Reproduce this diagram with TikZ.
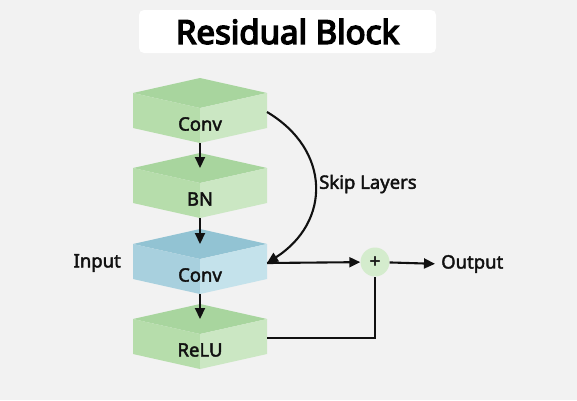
\documentclass[tikz,border=0pt]{standalone}
\usepackage{fontspec}
\setmainfont{Noto Sans}
\newfontfamily\lblfont{Noto Sans}[FakeBold=2.2]
\newfontfamily\titlefont{Noto Sans}[FakeBold=4.5]
\usetikzlibrary{arrows.meta}
\definecolor{bg}{HTML}{F2F2F2}
\definecolor{gtop}{HTML}{A8D59E}
\definecolor{gleft}{HTML}{B6DDAB}
\definecolor{gright}{HTML}{CBE7C3}
\definecolor{btop}{HTML}{92C3D3}
\definecolor{bleft}{HTML}{A8D0DE}
\definecolor{bright}{HTML}{C4E2EB}
\definecolor{plusfill}{HTML}{D4ECCD}
\definecolor{ink}{HTML}{111111}
\newcommand\resblock[6]{%
  \fill[#3] (133,#2+15) -- (200,#2) -- (267,#2+15) -- (200,#2+30) -- cycle;
  \fill[#4] (133,#2+15) -- (200,#2+30) -- (200,#2+65) -- (133,#2+50) -- cycle;
  \fill[#5] (200,#2+30) -- (267,#2+15) -- (267,#2+50) -- (200,#2+65) -- cycle;
  \node[lbl] (#1) at (200,#2+46) {#6};
  \coordinate (#1-top) at (200,#2+15);
  \coordinate (#1-bot) at (200,#2+65);
  \coordinate (#1-right) at (267,#2+34);
}
\tikzset{
  lbl/.style={font=\lblfont\fontsize{18.5}{22}\selectfont, text=ink, inner sep=0pt},
  conn/.style={draw=ink, line width=2.1pt, -{Triangle[length=11pt,width=10pt]}},
  plain/.style={draw=ink, line width=2.1pt},
}
\begin{document}
\begin{tikzpicture}[x=1pt,y=-1pt]
\fill[bg] (0,0) rectangle (577,400);
\useasboundingbox (0,0) rectangle (577,400);
\node[fill=white, rounded corners=5pt, minimum width=297pt, minimum height=43pt, inner sep=0pt,
  font=\titlefont\fontsize{33}{37}\selectfont, text=black] (title) at (287.5,31.5) {Residual Block};
\resblock{conv1}{78}{gtop}{gleft}{gright}{Conv}
\resblock{bn}{153}{gtop}{gleft}{gright}{BN}
\resblock{conv2}{229}{btop}{bleft}{bright}{Conv}
\resblock{relu}{304}{gtop}{gleft}{gright}{ReLU}
\draw[conn] (conv1-bot) -- (bn-top);
\draw[conn] (bn-bot) -- (conv2-top);
\draw[conn] (conv2-bot) -- (relu-top);
\node[lbl, anchor=east] (input) at (121,263) {Input};
\node[circle, fill=plusfill, minimum size=29pt, inner sep=0pt, lbl] (plus) at (375,262) {+};
\node[lbl, anchor=west] (output) at (441,264) {Output};
\node[lbl, anchor=west] (skip) at (319,184) {Skip Layers};
\draw[conn] (conv1-right) .. controls (331,150) and (331,222) .. (conv2-right);
\draw[conn] (conv2-right) -- (plus);
\draw[conn, shorten >=6pt] (plus) -- (output.west);
\draw[plain] (relu-right) -| (plus.south);
\end{tikzpicture}
\end{document}
